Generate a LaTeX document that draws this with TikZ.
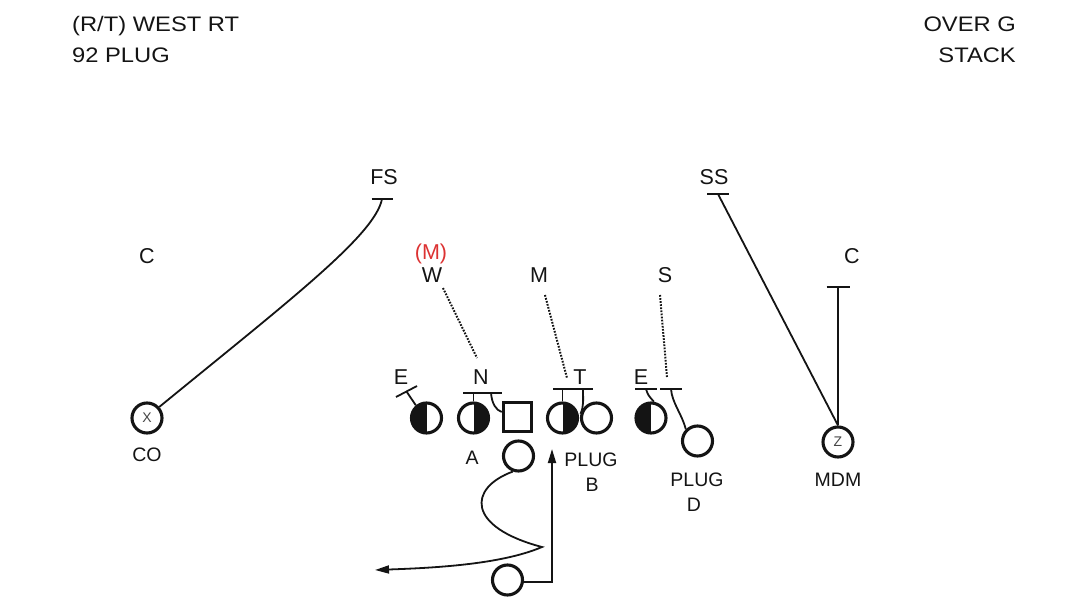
\documentclass[tikz,border=0pt]{standalone}
\usepackage{fontspec}
\setmainfont{Liberation Sans}
\newfontfamily\hdfont{Liberation Sans}[FakeStretch=1.13]
\usetikzlibrary{arrows.meta}
\definecolor{ink}{RGB}{20,20,20}
\definecolor{mred}{RGB}{220,50,50}
\definecolor{soft}{RGB}{70,70,70}
\begin{document}
\begin{tikzpicture}[x=1pt,y=-1pt,
  plr/.style={circle,draw=ink,line width=3.1pt,minimum size=30pt,inner sep=0pt},
  ctrbox/.style={rectangle,draw=ink,line width=3.1pt,minimum size=28.5pt,inner sep=0pt},
  lfill/.style={path picture={\fill[ink] (path picture bounding box.south west) rectangle (path picture bounding box.north);}},
  rfill/.style={path picture={\fill[ink] (path picture bounding box.south east) rectangle (path picture bounding box.north);}},
  route/.style={draw=ink,line width=1.8pt},
  zone/.style={draw=ink,line width=2pt,dash pattern=on 1.7pt off 1.4pt},
  hd/.style={font=\hdfont\fontsize{21}{25}\selectfont,text=ink,inner sep=0pt},
  lbl/.style={font=\fontsize{21.5}{25}\selectfont,text=ink,inner sep=0pt},
  sub/.style={font=\fontsize{19.5}{23}\selectfont,text=ink,inner sep=0pt},
  glyph/.style={font=\fontsize{14}{14}\selectfont,text=soft},
  tip/.style={-{Triangle[length=14pt,width=8pt]}}
]
\useasboundingbox (0,0) rectangle (1085,610);

% headers
\node[hd,anchor=base west] (h1) at (72,32) {(R/T) WEST RT};
\node[hd,anchor=base west] (h2) at (72,63) {92 PLUG};
\node[hd,anchor=base east] (h3) at (1016,32) {OVER G};
\node[hd,anchor=base east] (h4) at (1016,63) {STACK};

% defenders labels
\node[lbl] (fs) at (384,177) {FS};
\node[lbl] (ss) at (714,177) {SS};
\node[lbl] (cl) at (147,256) {C};
\node[lbl] (cr) at (852,256) {C};
\node[lbl,text=mred,anchor=base] (mm) at (431,259) {(M)};
\node[lbl] (w) at (432,275) {W};
\node[lbl] (m) at (539,275) {M};
\node[lbl] (s) at (665,275) {S};
\node[lbl] (el) at (401,377) {E};
\node[lbl] (n) at (481,377) {N};
\node[lbl] (t) at (580,377) {T};
\node[lbl] (er) at (641,377) {E};

% offense
\node[plr] (co) at (147,418) {};
\node[glyph] (cox) at (co) {X};
\node[plr] (z) at (838,442) {};
\node[glyph] (zz) at (z) {Z};
\node[plr,lfill] (le) at (426.5,418) {};
\node[plr,rfill] (nt) at (473.5,418) {};
\node[ctrbox] (ctr) at (517.5,417) {};
\node[plr,rfill] (rg) at (562.5,418) {};
\node[plr] (rt) at (596.5,418) {};
\node[plr,lfill] (re) at (651,418) {};
\node[plr] (dd) at (697.5,441) {};
\node[plr] (qb) at (518.5,456) {};
\node[plr] (rb) at (507.5,580) {};

% offense labels
\node[sub] (ca) at (147,455) {CO};
\node[sub] (la) at (472,458) {A};
\node[sub] (pb) at (591,460) {PLUG};
\node[sub] (b) at (592,485) {B};
\node[sub] (pd) at (697,480) {PLUG};
\node[sub] (d) at (694,505) {D};
\node[sub] (mdm) at (838,480) {MDM};

% FS route
\coordinate (fsb) at (382,199);
\draw[route] (fsb) +(-10.5,0) -- +(10.5,0);
\draw[route] (co.42) .. controls (290,300) and (375,235) .. (fsb);

% SS route
\coordinate (ssb) at (718,194);
\draw[route] (ssb) +(-11,0) -- +(11,0);
\draw[route] (ssb) -- (z.north);

% C right
\coordinate (crb) at (838,287);
\draw[route] (crb) +(-11.5,0) -- +(11.5,0);
\draw[route] (crb) -- (z.north);

% left E
\coordinate (leb) at (406.5,391.5);
\draw[route] (leb) +(-10.5,5.5) -- +(10.5,-5.5);
\draw[route] (leb) -- (le.130);

% N blocks
\coordinate (nb) at (482.5,393);
\coordinate (nb1) at (473.5,393);
\coordinate (nb2) at (491,393);
\draw[route] (nb) +(-19.5,0) -- +(19.5,0);
\draw[route] (nb1) -- (nt.north);
\draw[route] (nb2) .. controls (492,404) and (496,410) .. (ctr.west |- 0,412);

% T blocks
\coordinate (tb) at (573,389);
\coordinate (tb1) at (562.5,389);
\coordinate (tb2) at (583,389);
\draw[route] (tb) +(-20,0) -- +(20,0);
\draw[route] (tb1) -- (rg.north);
\draw[route] (tb2) .. controls (583,400) and (584,406) .. (rt.165);

% right E blocks
\coordinate (eb1) at (646,389);
\coordinate (eb2) at (671,389);
\draw[route] (eb1) +(-11,0) -- +(11,0);
\draw[route] (eb2) +(-11,0) -- +(11,0);
\draw[route] (eb1) .. controls (648,395) .. (re.80);
\draw[route] (eb2) .. controls (672,403) and (682,414) .. (dd.135);

% dotted reads
\coordinate (w1) at (443,288);
\coordinate (w2) at (477,358);
\coordinate (m1) at (545,295);
\coordinate (m2) at (567,378);
\coordinate (s1) at (660,295);
\coordinate (s2) at (667,377);
\draw[zone] (w1) -- (w2);
\draw[zone] (m1) -- (m2);
\draw[zone] (s1) -- (s2);

% QB path
\coordinate (qbend) at (375,570);
\draw[route,tip] (qb.250) .. controls (468,488) and (466,527) .. (542,547)
  .. controls (500,565) and (430,568) .. (qbend);

% RB path
\coordinate (rbturn) at (552,582);
\coordinate (rbtip) at (552,449);
\draw[route,tip] (rb.east |- rbturn) -- (rbturn) -- (rbtip);
\end{tikzpicture}
\end{document}
